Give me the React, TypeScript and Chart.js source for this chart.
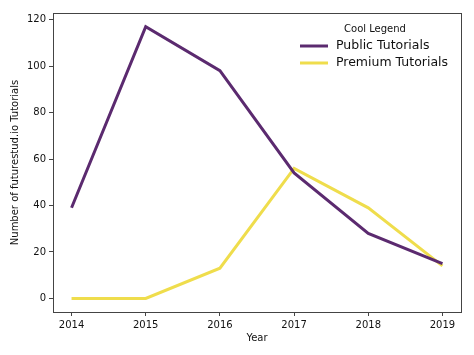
import React, { useEffect, useRef } from "react";
import { Chart, registerables } from "chart.js";

Chart.register(...registerables);

const years = [2014, 2015, 2016, 2017, 2018, 2019];
const publicTutorials = [39, 117, 98, 54, 28, 15];
const premiumTutorials = [0, 0, 13, 56, 39, 14];
const yTicks = [0, 20, 40, 60, 80, 100, 120];
const seriesLabels = ["Public Tutorials", "Premium Tutorials"];
const legendTitle = "Cool Legend";

const FONT = "'DejaVu Sans', sans-serif";
const PURPLE = "#5b2a6f";
const YELLOW = "#efdd4c";

const frameAndLegend = {
  id: "frameAndLegend",
  afterDatasetsDraw(chart: any) {
    const { ctx, chartArea } = chart;
    ctx.save();
    ctx.strokeStyle = "#444";
    ctx.lineWidth = 1;
    ctx.strokeRect(
      Math.round(chartArea.left) + 0.5,
      Math.round(chartArea.top) + 0.5,
      Math.round(chartArea.right - chartArea.left),
      Math.round(chartArea.bottom - chartArea.top)
    );
    // legend
    const lx = chartArea.right - 161;
    ctx.fillStyle = "#111";
    ctx.font = `10px ${FONT}`;
    ctx.textAlign = "center";
    ctx.textBaseline = "middle";
    ctx.fillText(legendTitle, chartArea.right - 86, chartArea.top + 16);
    ctx.font = `12.5px ${FONT}`;
    ctx.textAlign = "left";
    chart.data.datasets.forEach((ds: any, i: number) => {
      const y = chartArea.top + 33 + i * 17;
      ctx.strokeStyle = ds.borderColor;
      ctx.lineWidth = 3;
      ctx.beginPath();
      ctx.moveTo(lx, y);
      ctx.lineTo(lx + 28, y);
      ctx.stroke();
      ctx.fillStyle = "#111";
      ctx.fillText(ds.label, lx + 36, y);
    });
    ctx.restore();
  },
};

export default function App() {
  const ref = useRef<HTMLCanvasElement>(null);
  useEffect(() => {
    document.body.style.margin = "0";
    const chart = new Chart(ref.current!, {
      type: "line",
      data: {
        datasets: [
          {
            label: seriesLabels[0],
            data: years.map((x, i) => ({ x, y: publicTutorials[i] })),
            borderColor: PURPLE,
            borderWidth: 3,
            pointRadius: 0,
            tension: 0,
            fill: false,
          },
          {
            label: seriesLabels[1],
            data: years.map((x, i) => ({ x, y: premiumTutorials[i] })),
            borderColor: YELLOW,
            borderWidth: 3,
            pointRadius: 0,
            tension: 0,
            fill: false,
          },
        ],
      },
      options: {
        animation: false,
        responsive: false,
        maintainAspectRatio: false,
        layout: { padding: { top: 13, right: 13, left: 0, bottom: 0 } },
        plugins: {
          legend: { display: false },
          tooltip: { enabled: false },
        },
        scales: {
          x: {
            type: "linear",
            min: 2013.75,
            max: 2019.25,
            afterBuildTicks: (scale: any) => {
              scale.ticks = years.map((v) => ({ value: v }));
            },
            afterFit: (scale: any) => {
              scale.height = 43;
            },
            grid: {
              drawOnChartArea: false,
              drawTicks: true,
              tickLength: 4,
              color: "#444",
            },
            border: { display: true, color: "#444" },
            ticks: {
              color: "#111",
              font: { family: FONT, size: 10 },
              padding: 3,
              maxRotation: 0,
              autoSkip: false,
              callback: (v: any) => String(v),
            },
            title: {
              display: true,
              text: "Year",
              color: "#111",
              font: { family: FONT, size: 10 },
              padding: { top: 0, bottom: 11 },
            },
          },
          y: {
            type: "linear",
            min: -5.85,
            max: 122.85,
            afterBuildTicks: (scale: any) => {
              scale.ticks = yTicks.map((v) => ({ value: v }));
            },
            afterFit: (scale: any) => {
              scale.width = 53;
            },
            grid: {
              drawOnChartArea: false,
              drawTicks: true,
              tickLength: 4,
              color: "#444",
            },
            border: { display: true, color: "#444" },
            ticks: {
              color: "#111",
              font: { family: FONT, size: 10 },
              padding: 3,
              callback: (v: any) => String(v),
            },
            title: {
              display: true,
              text: "Number of futurestud.io Tutorials",
              color: "#111",
              font: { family: FONT, size: 10 },
              padding: { top: 9, bottom: 0 },
            },
          },
        },
      },
      plugins: [frameAndLegend],
    } as any);
    return () => chart.destroy();
  }, []);
  return (
    <div style={{ width: 474, height: 355 }}>
      <canvas ref={ref} width={474} height={355} style={{ display: "block" }} />
    </div>
  );
}
